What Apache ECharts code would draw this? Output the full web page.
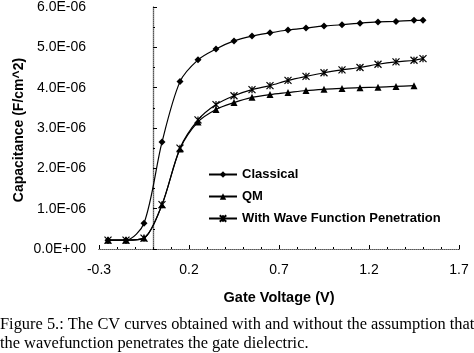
<!DOCTYPE html>
<html>
<head>
<meta charset="utf-8">
<script src="https://cdn.jsdelivr.net/npm/echarts@6/dist/echarts.min.js"></script>
<style>
  html, body { margin: 0; padding: 0; background: #fff; }
  #chart { width: 474px; height: 353px; }
</style>
</head>
<body>
<div id="chart"></div>
<script>
// gate voltage (V) and capacitance (F/cm^2)
var vClassical = [-0.25, -0.15, -0.05, 0.05, 0.15, 0.25, 0.35, 0.45, 0.55, 0.65, 0.75, 0.85, 0.95, 1.05, 1.15, 1.25, 1.35, 1.45, 1.5];
var cClassical = [0.22e-6, 0.22e-6, 0.64e-6, 2.65e-6, 4.15e-6, 4.69e-6, 4.96e-6, 5.16e-6, 5.28e-6, 5.36e-6, 5.43e-6, 5.48e-6, 5.53e-6, 5.56e-6, 5.6e-6, 5.63e-6, 5.64e-6, 5.67e-6, 5.67e-6];
var vQM = [-0.25, -0.15, -0.05, 0.05, 0.15, 0.25, 0.35, 0.45, 0.55, 0.65, 0.75, 0.85, 0.95, 1.05, 1.15, 1.25, 1.35, 1.45];
var cQM = [0.22e-6, 0.22e-6, 0.27e-6, 1.1e-6, 2.48e-6, 3.15e-6, 3.46e-6, 3.63e-6, 3.76e-6, 3.83e-6, 3.88e-6, 3.93e-6, 3.96e-6, 3.98e-6, 4.0e-6, 4.01e-6, 4.03e-6, 4.05e-6];
var vWave = [-0.25, -0.15, -0.05, 0.05, 0.15, 0.25, 0.35, 0.45, 0.55, 0.65, 0.75, 0.85, 0.95, 1.05, 1.15, 1.25, 1.35, 1.45, 1.5];
var cWave = [0.22e-6, 0.22e-6, 0.27e-6, 1.1e-6, 2.5e-6, 3.2e-6, 3.58e-6, 3.8e-6, 3.95e-6, 4.05e-6, 4.18e-6, 4.28e-6, 4.37e-6, 4.44e-6, 4.5e-6, 4.58e-6, 4.64e-6, 4.68e-6, 4.72e-6];
var seriesNames = ["Classical", "QM", "With Wave Function Penetration"];
var yTitle = "Capacitance (F/cm^2)";
var caption = [
  "Figure 5.: The CV curves obtained with and without the assumption that",
  "the wavefunction penetrates the gate dielectric."
];

function pairs(xs, ys) {
  var out = [];
  for (var i = 0; i < xs.length; i++) out.push([xs[i], ys[i]]);
  return out;
}

function sciLabel(v) {
  if (Math.abs(v) < 1e-12) return "0.0E+00";
  return (v * 1e6).toFixed(1) + "E-06";
}

var chart = echarts.init(document.getElementById("chart"));
var labelFont = "Liberation Sans, Arial, sans-serif";

chart.setOption({
  animation: false,
  backgroundColor: "#fff",
  grid: { left: 99, right: 15, top: 4, bottom: 104 },
  legend: {
    orient: "vertical",
    left: 203,
    top: 163,
    itemGap: 9,
    itemWidth: 28,
    itemHeight: 8,
    data: seriesNames,
    textStyle: { color: "#000", fontFamily: labelFont, fontWeight: "bold", fontSize: 13 }
  },
  xAxis: [
    {
      type: "value",
      min: -0.3,
      max: 1.7,
      interval: 0.5,
      name: "Gate Voltage (V)",
      nameLocation: "middle",
      nameGap: 41,
      nameTextStyle: { color: "#000", fontFamily: labelFont, fontWeight: "bold", fontSize: 14.5 },
      axisLine: { lineStyle: { color: "#000", width: 1.2 } },
      axisTick: { inside: true, length: 4, lineStyle: { color: "#000" } },
      minorTick: { show: true, splitNumber: 5, length: 2, lineStyle: { color: "#000" } },
      splitLine: { show: false },
      axisLabel: {
        margin: 14,
        color: "#000",
        fontFamily: labelFont,
        fontSize: 14,
        formatter: function (v) { return v.toFixed(1); }
      }
    },
    {
      type: "value",
      position: "top",
      min: -0.3,
      max: 1.7,
      axisLine: { lineStyle: { color: "#888", type: "dotted", width: 1 } },
      axisTick: { show: false },
      axisLabel: { show: false },
      splitLine: { show: false }
    }
  ],
  yAxis: [
    {
      type: "value",
      min: 0,
      max: 6e-6,
      interval: 1e-6,
      axisLine: { show: true, lineStyle: { color: "#000", width: 1.2 } },
      axisTick: { show: true, inside: true, length: 4, lineStyle: { color: "#000" } },
      minorTick: { show: true, splitNumber: 2, length: 2, lineStyle: { color: "#000" } },
      splitLine: { show: false },
      axisLabel: {
        margin: 13,
        color: "#000",
        fontFamily: labelFont,
        fontSize: 14,
        formatter: sciLabel
      }
    },
    {
      type: "value",
      position: "right",
      min: 0,
      max: 6e-6,
      axisLine: { show: true, lineStyle: { color: "#888", type: "dotted", width: 1 } },
      axisTick: { show: false },
      axisLabel: { show: false },
      splitLine: { show: false }
    }
  ],
  series: [
    {
      name: seriesNames[0],
      type: "line",
      smooth: 0.3,
      data: pairs(vClassical, cClassical),
      symbol: "diamond",
      symbolSize: 7,
      lineStyle: { color: "#000", width: 1.2 },
      itemStyle: { color: "#000" }
    },
    {
      name: seriesNames[1],
      type: "line",
      smooth: 0.3,
      data: pairs(vQM, cQM),
      symbol: "triangle",
      symbolSize: 7,
      lineStyle: { color: "#000", width: 1.2 },
      itemStyle: { color: "#000" }
    },
    {
      name: seriesNames[2],
      type: "line",
      smooth: 0.3,
      data: pairs(vWave, cWave),
      symbol: "path://M0,0 L10,10 M10,0 L0,10 M5,0 L5,10",
      symbolSize: 7,
      lineStyle: { color: "#000", width: 1.2 },
      itemStyle: { color: "#000", borderColor: "#000", borderWidth: 1.2 }
    }
  ],
  graphic: [
    {
      type: "text",
      x: 19,
      y: 130,
      rotation: Math.PI / 2,
      style: {
        text: yTitle,
        fill: "#000",
        font: "bold 14px 'Liberation Sans', Arial, sans-serif",
        align: "center",
        verticalAlign: "middle"
      }
    },
    {
      type: "text",
      left: 0,
      top: 315,
      style: {
        text: caption.join("\n"),
        fill: "#000",
        font: "16.4px 'Liberation Serif', 'Times New Roman', serif",
        lineHeight: 19
      }
    }
  ]
});
</script>
</body>
</html>
